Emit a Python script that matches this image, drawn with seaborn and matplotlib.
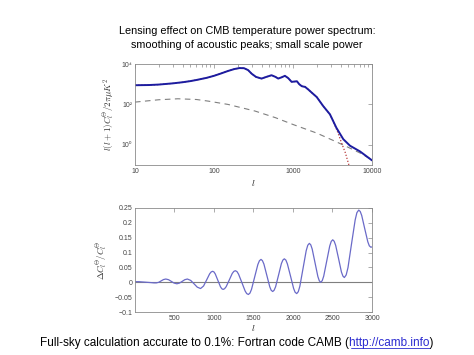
import numpy as np
import pandas as pd
import matplotlib
matplotlib.use("Agg")
import matplotlib.pyplot as plt
from matplotlib.ticker import FixedLocator, FixedFormatter, LogLocator, NullFormatter, NullLocator
from matplotlib.lines import Line2D
from matplotlib.transforms import Bbox
import seaborn as sns

# ---- top panel: l(l+1)C_l/2pi (lensed, unlensed, lensing potential) ----
lensed_l = [10, 15, 20, 30, 40, 50, 60, 80, 100, 120, 150, 180, 210, 240, 270, 300, 340, 400, 460, 535,
            600, 650, 720, 790, 870, 960, 1040, 1120, 1200, 1290, 1360, 1420, 1550, 1730, 2000, 2410,
            2940, 3540, 4330, 5270, 7050, 10000]
lensed_D = [890, 910, 960, 1100, 1250, 1420, 1620, 2050, 2600, 3300, 4500, 5600, 6300, 6200, 5000, 3300,
            2300, 1900, 2300, 2780, 2300, 1900, 2200, 2600, 2000, 1310, 1350, 1400, 1000, 800, 760, 740,
            560, 380, 230, 83, 32, 7, 1.9, 0.9, 0.47, 0.17]

unlensed_l = [10, 15, 20, 30, 40, 50, 60, 80, 100, 120, 150, 180, 210, 240, 270, 300, 340, 400, 460, 535,
              600, 650, 720, 790, 870, 960, 1040, 1120, 1200, 1290, 1360, 1420, 1550, 1730, 2000, 2410,
              2940, 3300, 3700, 4100, 4600, 5100, 5400]
unlensed_D = [890, 910, 960, 1100, 1250, 1420, 1620, 2050, 2600, 3300, 4500, 5600, 6300, 6200, 5000, 3300,
              2300, 1900, 2300, 2780, 2300, 1900, 2200, 2600, 2000, 1310, 1350, 1400, 1000, 800, 760, 740,
              560, 380, 230, 83, 32, 12, 4, 1.3, 0.4, 0.1, 0.06]

phi_l = [10, 20, 35, 60, 85, 150, 330, 600, 1010, 2000, 3540, 5000, 7000, 10000]
phi_D = [130, 170, 190, 175, 145, 100, 47, 22, 10, 3.8, 1.4, 0.75, 0.4, 0.18]

# ---- bottom panel: fractional change from lensing ----
diff_l = [2, 50, 100, 150, 200, 240, 270, 300, 330, 360, 390, 425, 460, 495, 530, 563, 597, 630, 663,
          705, 747, 788, 830, 868, 907, 945, 964, 983, 1000, 1016, 1049, 1082, 1099, 1115, 1134, 1154,
          1193, 1231, 1251, 1270, 1291, 1311, 1353, 1394, 1414, 1435, 1455, 1475, 1515, 1555, 1575, 1595,
          1613, 1632, 1669, 1706, 1724, 1743, 1761, 1780, 1817, 1853, 1872, 1890, 1910, 1929, 1969, 2008,
          2027, 2047, 2067, 2087, 2127, 2167, 2187, 2207, 2225, 2243, 2279, 2315, 2333, 2351, 2370, 2389,
          2427, 2465, 2484, 2503, 2521, 2540, 2577, 2613, 2632, 2650, 2673, 2696, 2741, 2787, 2809, 2832,
          2851, 2870, 2908, 2947, 2966, 2985, 3000]
diff_v = [0.002, 0.002, 0.001, 0.0, -0.001, -0.002, -0.002, -0.0001, 0.0045, 0.0091, 0.011, 0.0087, 0.003,
          -0.0027, -0.005, -0.0027, 0.003, 0.0087, 0.011, 0.0063, -0.005, -0.0163, -0.021, -0.0125, 0.008,
          0.0285, 0.0348, 0.037, 0.0347, 0.0281, 0.0065, -0.0151, -0.0217, -0.024, -0.0216, -0.0148,
          0.0075, 0.0298, 0.0366, 0.039, 0.036, 0.0273, -0.001, -0.0293, -0.038, -0.041, -0.0365, -0.0237,
          0.018, 0.0597, 0.0725, 0.077, 0.0729, 0.0612, 0.023, -0.0152, -0.0269, -0.031, -0.0268, -0.0149,
          0.024, 0.0629, 0.0748, 0.079, 0.0746, 0.0619, 0.0205, -0.0209, -0.0336, -0.038, -0.0316, -0.0132,
          0.0465, 0.1062, 0.1246, 0.131, 0.126, 0.1118, 0.0655, 0.0192, 0.005, 0.0, 0.0054, 0.0209,
          0.0715, 0.1221, 0.1376, 0.143, 0.1382, 0.1244, 0.0795, 0.0346, 0.0208, 0.016, 0.0246, 0.0492,
          0.1295, 0.2098, 0.2344, 0.243, 0.2383, 0.2247, 0.1805, 0.1363, 0.1227, 0.118, 0.119]

top_xticks = [10, 100, 1000, 10000]
top_xticklabels = ["10", "100", "1000", "10000"]
top_yticks = [1, 100, 10000]
top_yticklabels = ["10\u2070", "10\u00b2", "10\u2074"]
bot_xticks = [500, 1000, 1500, 2000, 2500, 3000]
bot_yticks = [-0.1, -0.05, 0, 0.05, 0.1, 0.15, 0.2, 0.25]
bot_yticklabels = ["\u22120.1", "\u22120.05", "0", "0.05", "0.1", "0.15", "0.2", "0.25"]

sns.set_theme(style="white")
plt.rcParams['font.family'] = ['Liberation Sans', 'DejaVu Sans']
plt.rcParams['mathtext.fontset'] = 'cm'

fig = plt.figure(figsize=(4.74, 3.55), dpi=100)
fig.patch.set_facecolor("white")
ax1 = fig.add_axes([0.2848, 0.5352, 0.5, 0.2845])
ax2 = fig.add_axes([0.2848, 0.1211, 0.5, 0.2930])

spine_col = "#8a8a8a"
tick_col = "#444444"

def style_axis(ax):
    for s in ax.spines.values():
        s.set_color(spine_col)
        s.set_linewidth(0.6)
    ax.tick_params(which="both", direction="in", top=True, right=True, color=spine_col,
                   width=0.5, labelsize=5, labelcolor=tick_col, pad=2)
    ax.tick_params(which="major", length=3)
    ax.tick_params(which="minor", length=1.8)
    ax.set_facecolor("white")
    ax.grid(False)

# top panel
ax1.set_xscale("log")
ax1.set_yscale("log")
top_df = pd.DataFrame({"l": lensed_l, "D": lensed_D})
unl_df = pd.DataFrame({"l": unlensed_l, "D": unlensed_D})
phi_df = pd.DataFrame({"l": phi_l, "D": phi_D})
sns.lineplot(data=phi_df, x="l", y="D", ax=ax1, color="#7f7f7f", linewidth=0.8,
             linestyle=(0, (5, 4)), estimator=None)
sns.lineplot(data=unl_df, x="l", y="D", ax=ax1, color="#b83a3a", linewidth=0.9,
             linestyle=(0, (1, 1.5)), estimator=None)
sns.lineplot(data=top_df, x="l", y="D", ax=ax1, color="#1c1ca0", linewidth=1.4, estimator=None)
ax1.set_xlim(10, 10000)
ax1.set_ylim(0.1, 10000)
ax1.xaxis.set_major_locator(FixedLocator(top_xticks))
ax1.xaxis.set_major_formatter(FixedFormatter(top_xticklabels))
ax1.xaxis.set_minor_locator(LogLocator(base=10, subs=np.arange(2, 10), numticks=20))
ax1.xaxis.set_minor_formatter(NullFormatter())
ax1.yaxis.set_major_locator(FixedLocator(top_yticks))
ax1.yaxis.set_major_formatter(FixedFormatter(top_yticklabels))
ax1.yaxis.set_minor_locator(NullLocator())
style_axis(ax1)
ax1.set_xlabel("$l$", fontsize=7, labelpad=2)
ax1.set_ylabel(r"$l(l+1)C_l^{\mathbf{\Theta}}/2\pi\mu K^2$", fontsize=6.5, labelpad=3, color="#333333")

# bottom panel
diff_df = pd.DataFrame({"l": diff_l, "v": diff_v})
ax2.axhline(0, color="#7f7f7f", linewidth=0.8)
sns.lineplot(data=diff_df, x="l", y="v", ax=ax2, color="#6a6ac8", linewidth=0.9, estimator=None)
ax2.set_xlim(0, 3000)
ax2.set_ylim(-0.1, 0.25)
ax2.xaxis.set_major_locator(FixedLocator(bot_xticks))
ax2.yaxis.set_major_locator(FixedLocator(bot_yticks))
ax2.yaxis.set_major_formatter(FixedFormatter(bot_yticklabels))
style_axis(ax2)
ax2.set_xlabel("$l$", fontsize=7, labelpad=1)
ax2.set_ylabel(r"$\Delta C_l^{\mathbf{\Theta}}/C_l^{\mathbf{\Theta}}$", fontsize=6.5, labelpad=3, color="#333333")

# title lines
fig.text(0.521, 0.914, "Lensing effect on CMB temperature power spectrum:", ha="center", va="center",
         fontsize=7.85, color="black")
fig.text(0.521, 0.873, "smoothing of acoustic peaks; small scale power", ha="center", va="center",
         fontsize=7.85, color="black")

# footer: one string drawn three times, each copy clipped to its colour span
prefix = "Full-sky calculation accurate to 0.1%: Fortran code CAMB ("
link = "http://camb.info"
suffix = ")"
full = prefix + link + suffix
link_col = "#2b2bd0"
foot_y = 0.034
foot_size = 8.5
fig.canvas.draw()
renderer = fig.canvas.get_renderer()
W = fig.bbox.width
H = fig.bbox.height

def text_w(s):
    t = fig.text(0, foot_y, s, fontsize=foot_size)
    w = t.get_window_extent(renderer).width
    t.remove()
    return w

x0 = (W - text_w(full)) / 2
b1 = x0 + text_w(prefix) + 0.6
b2 = x0 + text_w(prefix + link) + 0.6
spans = [(0, b1, "black"), (b1, b2, link_col), (b2, W, "black")]
for xa, xb, col in spans:
    t = fig.text(x0 / W, foot_y, full, ha="left", va="center", fontsize=foot_size, color=col)
    t.set_clip_box(Bbox.from_extents(xa, 0, xb, H))
    t.set_clip_on(True)
ext = t.get_window_extent(renderer)
ul_y = (ext.y0 + 1.0) / H
fig.add_artist(Line2D([(b1 + 0.8) / W, (b2 - 0.8) / W], [ul_y, ul_y], color=link_col, linewidth=0.6,
                      transform=fig.transFigure))

fig.savefig("out.png", dpi=100, facecolor="white")
